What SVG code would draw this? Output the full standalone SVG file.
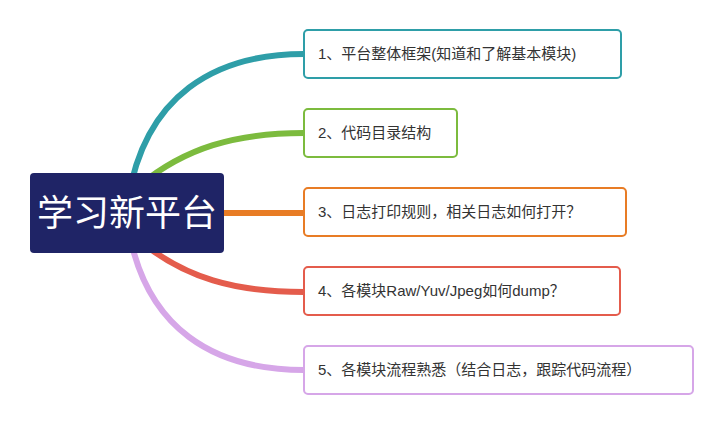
<svg xmlns="http://www.w3.org/2000/svg" width="725" height="425" viewBox="0 0 725 425">
<style>
.c{fill:none;stroke-width:6;stroke-linecap:round}
.b{fill:#fff;stroke-width:2}
.t{font-family:"Liberation Sans","Noto Sans CJK SC",sans-serif;font-size:15px;fill:#333}
</style>
<rect width="725" height="425" fill="#fff"/>
<g id="connectors">
<path class="c" stroke="#2e9ea8" d="M128 200 C145 95 215 54 304 54"/>
<path class="c" stroke="#7cbb3e" d="M140 185 C185 148 235 133 304 133"/>
<path class="c" stroke="#e87c25" d="M220 213 L304 213"/>
<path class="c" stroke="#e45c4c" d="M140 241 C185 278 235 292 304 292"/>
<path class="c" stroke="#d6a6e8" d="M128 226 C145 330 215 370 304 370"/>
</g>
<g id="center"><rect x="30" y="173" width="194" height="80" rx="4" fill="#1f2466"/>
<text x="127" y="226" text-anchor="middle" font-family="'Noto Sans CJK SC',sans-serif" font-size="36" fill="#fff">学习新平台</text></g>
<g id="n1"><rect class="b" x="304" y="30" width="317" height="48" rx="4" stroke="#2e9ea8"/><text class="t" x="318" y="59">1、平台整体框架(知道和了解基本模块)</text></g>
<g id="n2"><rect class="b" x="304" y="109" width="153" height="48" rx="4" stroke="#7cbb3e"/><text class="t" x="318" y="138">2、代码目录结构</text></g>
<g id="n3"><rect class="b" x="304" y="188" width="322" height="48" rx="4" stroke="#e87c25"/><text class="t" x="318" y="217">3、日志打印规则，相关日志如何打开？</text></g>
<g id="n4"><rect class="b" x="304" y="267" width="316" height="48" rx="4" stroke="#e45c4c"/><text class="t" x="318" y="296">4、各模块Raw/Yuv/Jpeg如何dump？</text></g>
<g id="n5"><rect class="b" x="304" y="346" width="389" height="48" rx="4" stroke="#d6a6e8"/><text class="t" x="318" y="375">5、各模块流程熟悉（结合日志，跟踪代码流程）</text></g>
</svg>
